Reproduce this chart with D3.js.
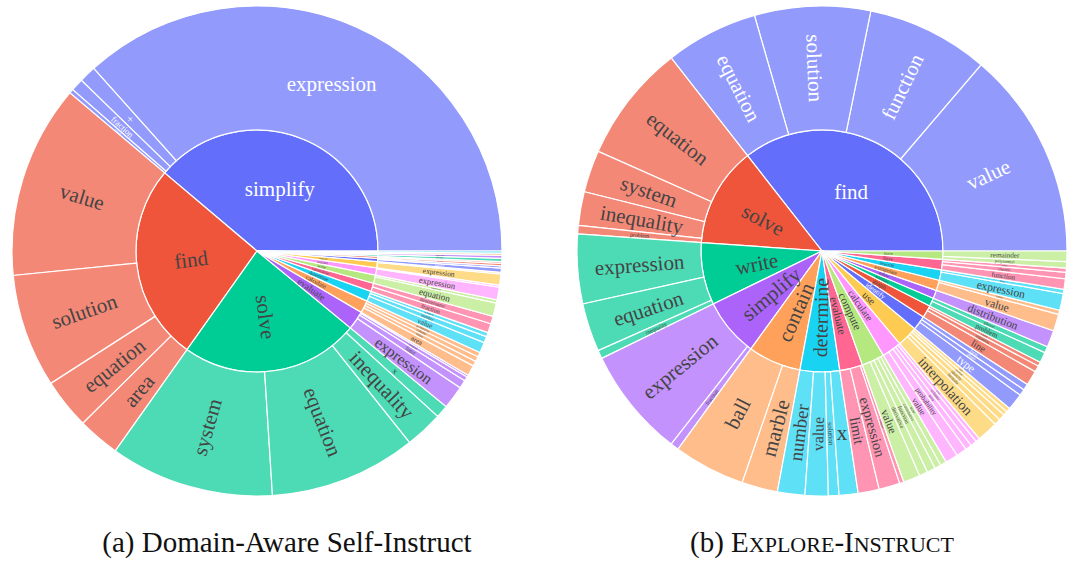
<!DOCTYPE html>
<html>
<head>
<meta charset="utf-8">
<script src="https://cdn.jsdelivr.net/npm/d3@7"></script>
<style>
  body { margin: 0; background: #fff; }
  text { font-family: "Liberation Serif", "DejaVu Serif", serif; }
</style>
</head>
<body>
<svg id="chart" width="1080" height="564"></svg>
<script>
// leaves: [parent, label, value] -- value is roughly the share of the circle
var leavesA = [
  ["simplify", "expression", 132], ["simplify", "+", 4], ["simplify", "fraction", 3], ["simplify", "radical", 1],
  ["find", "value", 46], ["find", "solution", 27], ["find", "equation", 12], ["find", "area", 10],
  ["solve", "system", 39], ["solve", "equation", 35], ["solve", "inequality", 9], ["solve", "x", 3],
  ["evaluate", "expression", 5.5], ["evaluate", "limit", 2], ["evaluate", "integral", 1], ["evaluate", "sum", 0.5],
  ["calculate", "area", 2.5], ["calculate", "value", 1.2], ["calculate", "volume", 1.2], ["calculate", "probability", 1.1],
  ["determine", "value", 2.5], ["determine", "number", 1.5], ["determine", "solution", 1],
  ["rationalize", "fraction", 2.2], ["rationalize", "denominator", 1.8],
  ["write", "equation", 3.2], ["write", "expression", 0.8],
  ["expand", "expression", 3], ["expand", "product", 0.5],
  ["rewrite", "expression", 2.6], ["rewrite", "sum", 0.4],
  ["factor", "function", 1], ["factor", "factor", 0.5],
  ["convert", "fraction", 0.6], ["convert", "decimal", 0.4],
  ["compute", "division", 0.8],
  ["graph", "expression", 0.7],
  ["use", "equation", 0.5],
  ["identify", "solution", 0.5]
];

var leavesB = [
  ["find", "value", 49.5], ["find", "function", 29], ["find", "solution", 27.5], ["find", "equation", 22],
  ["solve", "equation", 28], ["solve", "system", 10], ["solve", "inequality", 8], ["solve", "problem", 2],
  ["write", "expression", 16.5], ["write", "equation", 11.5], ["write", "inequality", 2],
  ["simplify", "expression", 26], ["simplify", "fraction", 2],
  ["contain", "ball", 17], ["contain", "marble", 8.5],
  ["determine", "number", 6.5], ["determine", "value", 5.5], ["determine", "solution", 2.5], ["determine", "x", 4.5],
  ["evaluate", "limit", 5], ["evaluate", "expression", 5], ["evaluate", "integral", 1],
  ["compute", "value", 4], ["compute", "derivative", 2], ["compute", "function", 2], ["compute", "cumulative", 1.5], ["compute", "sum", 1.5],
  ["calculate", "value", 3], ["calculate", "probability", 2.5], ["calculate", "area", 1.5], ["calculate", "volume", 1.5], ["calculate", "sum", 1],
  ["use", "interpolation", 5], ["use", "formula", 1.5], ["use", "identity", 1.5], ["use", "method", 1], ["use", "rule", 1],
  ["identify", "type", 4], ["identify", "shape", 1.5], ["identify", "form", 1.5],
  ["graph", "line", 3.5], ["graph", "equation", 1.5], ["graph", "curve", 1],
  ["translate", "problem", 2.5], ["translate", "phrase", 1.5],
  ["follow", "distribution", 4],
  ["extrapolate", "value", 4], ["extrapolate", "trend", 1],
  ["rewrite", "expression", 4], ["rewrite", "sum", 1],
  ["have", "function", 2.5], ["have", "chosen", 1.5], ["have", "value", 1],
  ["leave", "polynomial", 1.5], ["leave", "remainder", 2.5]
];

var palette = ["#636efa", "#EF553B", "#00cc96", "#ab63fa", "#FFA15A", "#19d3f3", "#FF6692", "#B6E880", "#FF97FF", "#FECB52"];

var svg = d3.select("#chart");
var r1 = 121, r2 = 245, charW = 0.46, maxFont = 21;

function textColor(c) {
  var rgb = d3.rgb(c);
  return (rgb.b - rgb.r > 80 && rgb.b - rgb.g > 80 && rgb.r < 170) ? "#fff" : "#444";
}

function drawSunburst(leaves, cx, cy) {
  var parents = Array.from(new Set(leaves.map(function (d) { return d[0]; })));
  var color = d3.scaleOrdinal().domain(parents).range(palette);
  var data = { name: "root", children: parents.map(function (p) {
    return { name: p, children: leaves.filter(function (d) { return d[0] == p; }).map(function (d) {
      return { name: d[1], value: d[2] };
    }) };
  }) };
  var root = d3.hierarchy(data).sum(function (d) { return d.value || 0; });
  d3.partition().size([2 * Math.PI, 3])(root);
  var rad = d3.scaleLinear().domain([1, 2, 3]).range([0, r1, r2]);

  var arc = d3.arc()
    .startAngle(function (d) { return Math.PI / 2 - d.x1; })
    .endAngle(function (d) { return Math.PI / 2 - d.x0; })
    .innerRadius(function (d) { return rad(d.y0); })
    .outerRadius(function (d) { return rad(d.y1); });

  var g = svg.append("g").attr("transform", "translate(" + cx + "," + cy + ")");
  var nodes = root.descendants().filter(function (d) { return d.depth > 0; });

  function fill(d) {
    var base = d.depth == 1 ? d.data.name : d.parent.data.name;
    var c = d3.rgb(color(base));
    if (d.depth == 2) c = d3.interpolateRgb(c, "#fff")(0.3);
    return d3.rgb(c).formatHex();
  }

  g.selectAll("path").data(nodes).join("path")
    .attr("d", arc)
    .attr("fill", fill)
    .attr("stroke", "#fff")
    .attr("stroke-width", 1.2);

  nodes.forEach(function (d) {
    var th = (d.x0 + d.x1) / 2, dth = d.x1 - d.x0;
    var rm, T, A;
    if (d.depth == 1) {
      rm = r1 * 0.55; T = r1 * 0.85; A = Math.min(dth * rm, 2 * rm) * 0.9;
    } else {
      rm = (r1 + r2) / 2; T = (r2 - r1) * 0.9; A = dth * rm * 0.9;
    }
    var n = d.data.name.length, c = Math.abs(Math.cos(th)), s = Math.abs(Math.sin(th));
    var fh = Math.min(T / (charW * n * c + s), A / (charW * n * s + c));
    var fr = Math.min(T / (charW * n), A);
    var horiz = fh >= fr;
    var fs = Math.min(maxFont, horiz ? fh : fr);
    if (fs < 1.5) return;
    var x = rm * Math.cos(th), y = -rm * Math.sin(th);
    var rot = 0;
    if (!horiz) {
      rot = -th * 180 / Math.PI;
      while (rot <= -90) rot += 180;
      while (rot > 90) rot -= 180;
    }
    g.append("text")
      .attr("transform", "translate(" + x + "," + y + ") rotate(" + rot + ")")
      .attr("text-anchor", "middle")
      .attr("dy", "0.35em")
      .attr("font-size", fs)
      .attr("fill", textColor(fill(d)))
      .text(d.data.name);
  });
}

drawSunburst(leavesA, 257, 251);
drawSunburst(leavesB, 822, 251);

// captions
svg.append("text").attr("x", 287).attr("y", 552).attr("text-anchor", "middle")
  .attr("font-size", 29).attr("fill", "#111").text("(a)  Domain-Aware Self-Instruct");
var cap = svg.append("text").attr("x", 822).attr("y", 552).attr("text-anchor", "middle")
  .attr("font-size", 29).attr("fill", "#111");
cap.append("tspan").text("(b)  E");
cap.append("tspan").attr("font-size", 22).text("XPLORE");
cap.append("tspan").text("-I");
cap.append("tspan").attr("font-size", 22).text("NSTRUCT");
</script>
</body>
</html>
